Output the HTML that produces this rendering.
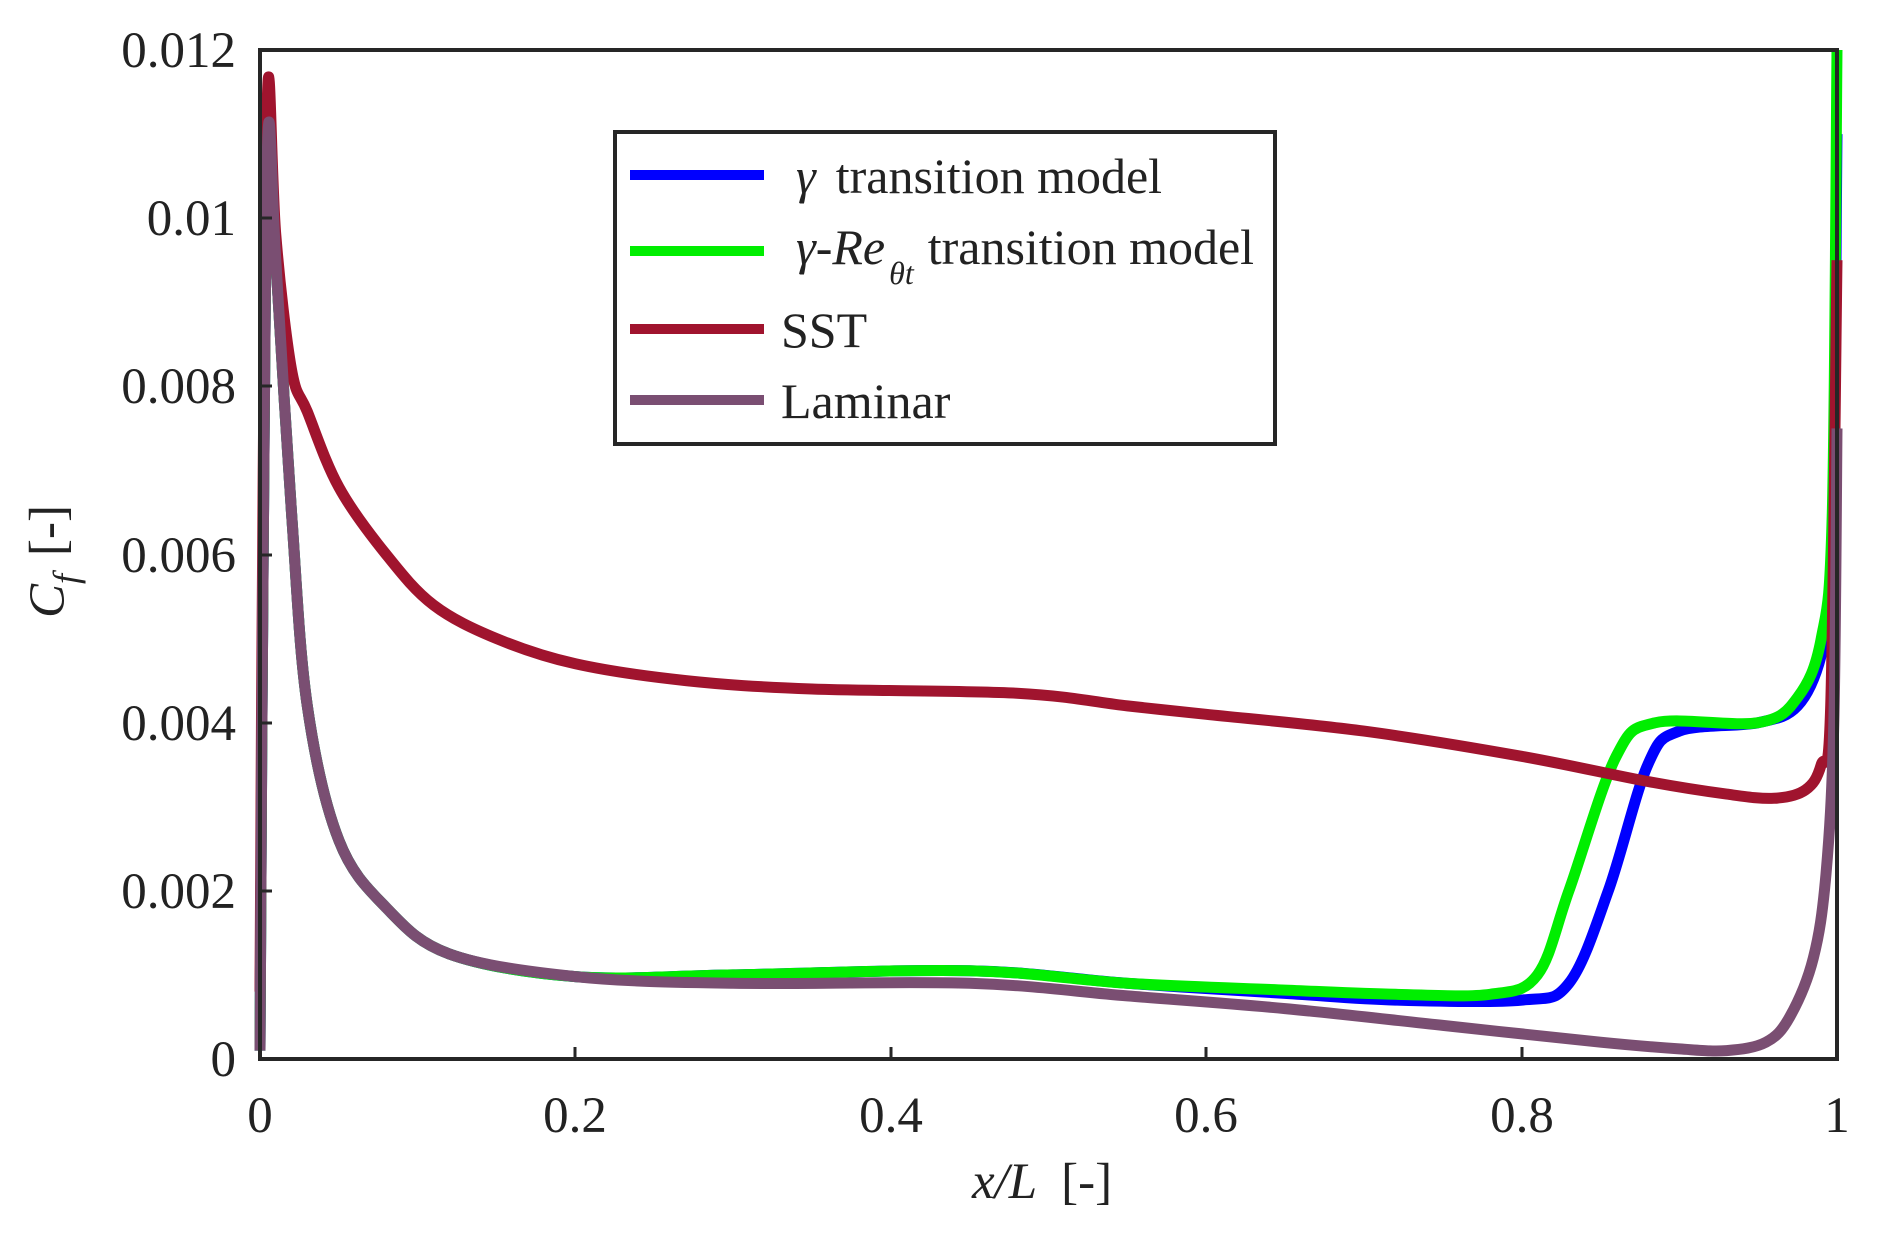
<!DOCTYPE html>
<html><head><meta charset="utf-8"><style>
html,body{margin:0;padding:0;background:#fff}
svg{display:block}
text{font-family:"Liberation Serif",serif;fill:#222}
</style></head><body>
<svg id="s" width="1881" height="1237" viewBox="0 0 1881 1237" xmlns="http://www.w3.org/2000/svg">
<rect width="1881" height="1237" fill="#fff"/>
<g id="curves" fill="none" stroke-width="11" stroke-linejoin="round" stroke-linecap="butt"></g>
<rect x="260" y="50" width="1577" height="1009" fill="none" stroke="#262626" stroke-width="4"/>
<g stroke="#262626" stroke-width="3">
<line x1="575" y1="1059" x2="575" y2="1047"/><line x1="891" y1="1059" x2="891" y2="1047"/>
<line x1="1206" y1="1059" x2="1206" y2="1047"/><line x1="1522" y1="1059" x2="1522" y2="1047"/>
<line x1="260" y1="891" x2="272" y2="891"/><line x1="260" y1="723" x2="272" y2="723"/>
<line x1="260" y1="555" x2="272" y2="555"/><line x1="260" y1="386" x2="272" y2="386"/>
<line x1="260" y1="218" x2="272" y2="218"/>
</g>
<g font-size="51" text-anchor="end">
<text x="236" y="1076">0</text><text x="236" y="908">0.002</text><text x="236" y="740">0.004</text>
<text x="236" y="572">0.006</text><text x="236" y="403">0.008</text><text x="236" y="235">0.01</text>
<text x="236" y="67">0.012</text>
</g>
<g font-size="51" text-anchor="middle">
<text x="260" y="1132">0</text><text x="575" y="1132">0.2</text><text x="891" y="1132">0.4</text>
<text x="1206" y="1132">0.6</text><text x="1522" y="1132">0.8</text><text x="1837" y="1132">1</text>
</g>
<text x="972" y="1198" font-size="51"><tspan font-style="italic">x/L</tspan><tspan dx="24">[-]</tspan></text>
<text transform="translate(64,618) rotate(-90)" font-size="51"><tspan font-style="italic">C</tspan><tspan font-style="italic" font-size="36" dy="14">f</tspan><tspan dy="-14" dx="18">[-]</tspan></text>
<rect x="615" y="132" width="660" height="312" fill="#fff" stroke="#262626" stroke-width="4"/>
<g stroke-width="10">
<line x1="630" y1="175" x2="764" y2="175" stroke="#0000ff"/>
<line x1="630" y1="251" x2="764" y2="251" stroke="#00ee00"/>
<line x1="630" y1="329" x2="764" y2="329" stroke="#a0142e"/>
<line x1="630" y1="400" x2="764" y2="400" stroke="#7a4e72"/>
</g>
<g font-size="50">
<text x="796" y="193"><tspan font-style="italic">γ</tspan><tspan dx="20">transition model</tspan></text>
<text x="796" y="264"><tspan font-style="italic">γ-Re</tspan><tspan font-style="italic" font-size="32" dy="20" dx="4">θt</tspan><tspan dy="-20" dx="14">transition model</tspan></text>
<text x="781" y="347">SST</text>
<text x="781" y="418">Laminar</text>
</g>
</svg>
<script>
function X(x){return 260+x*1577}
function Y(v){return 1059-v*84083}
function path(pts){
  var p=pts.map(function(a){return [X(a[0]),Y(a[1])]});
  var d="M"+p[0][0].toFixed(1)+","+p[0][1].toFixed(1);
  for(var i=0;i<p.length-1;i++){
    var p0=p[i>0?i-1:i],p1=p[i],p2=p[i+1],p3=p[i+2<p.length?i+2:i+1];
    var c1x=p1[0]+(p2[0]-p0[0])/6,c1y=p1[1]+(p2[1]-p0[1])/6;
    var c2x=p2[0]-(p3[0]-p1[0])/6,c2y=p2[1]-(p3[1]-p1[1])/6;
    d+=" C"+c1x.toFixed(1)+","+c1y.toFixed(1)+" "+c2x.toFixed(1)+","+c2y.toFixed(1)+" "+p2[0].toFixed(1)+","+p2[1].toFixed(1);
  }
  return d;
}
var base=[[0,0.0001],[0.002,0.006],[0.005,0.011],[0.01,0.0095],[0.02,0.0065],[0.03,0.0042],[0.05,0.0026],[0.08,0.0018],[0.12,0.00125],[0.2,0.00098]];
var blue=base.concat([[0.3,0.001],[0.45,0.00105],[0.55,0.0009],[0.65,0.00078],[0.72,0.0007],[0.8,0.0007],[0.83,0.0009],[0.855,0.002],[0.88,0.0035],[0.9,0.0039],[0.95,0.004],[0.975,0.0042],[0.99,0.0048],[0.997,0.0058],[1,0.011]]);
var green=base.concat([[0.3,0.001],[0.45,0.00105],[0.55,0.0009],[0.65,0.00082],[0.72,0.00077],[0.78,0.00077],[0.81,0.001],[0.83,0.002],[0.86,0.0036],[0.885,0.004],[0.95,0.004],[0.975,0.0043],[0.99,0.005],[0.997,0.0065],[1,0.012]]);
var sst=[[0,0.0008],[0.002,0.007],[0.005,0.0116],[0.01,0.0098],[0.02,0.0082],[0.03,0.0077],[0.05,0.0068],[0.08,0.006],[0.11,0.0054],[0.15,0.005],[0.2,0.0047],[0.27,0.0045],[0.35,0.0044],[0.48,0.00435],[0.55,0.0042],[0.6,0.0041],[0.7,0.0039],[0.8,0.0036],[0.88,0.0033],[0.93,0.00315],[0.96,0.0031],[0.98,0.0032],[0.99,0.0035],[0.996,0.0042],[1,0.0095]];
var lam=base.concat([[0.3,0.0009],[0.45,0.0009],[0.55,0.00075],[0.65,0.0006],[0.75,0.0004],[0.85,0.0002],[0.9,0.00012],[0.93,0.0001],[0.955,0.0002],[0.97,0.0005],[0.985,0.0012],[0.993,0.0022],[0.998,0.004],[1,0.0075]]);
var g=document.getElementById("curves"),ns="http://www.w3.org/2000/svg";
[[blue,"#0000ff"],[green,"#00ee00"],[sst,"#a0142e"],[lam,"#7a4e72"]].forEach(function(s){
  var e=document.createElementNS(ns,"path");e.setAttribute("d",path(s[0]));e.setAttribute("stroke",s[1]);g.appendChild(e);
});
</script>
</body></html>
